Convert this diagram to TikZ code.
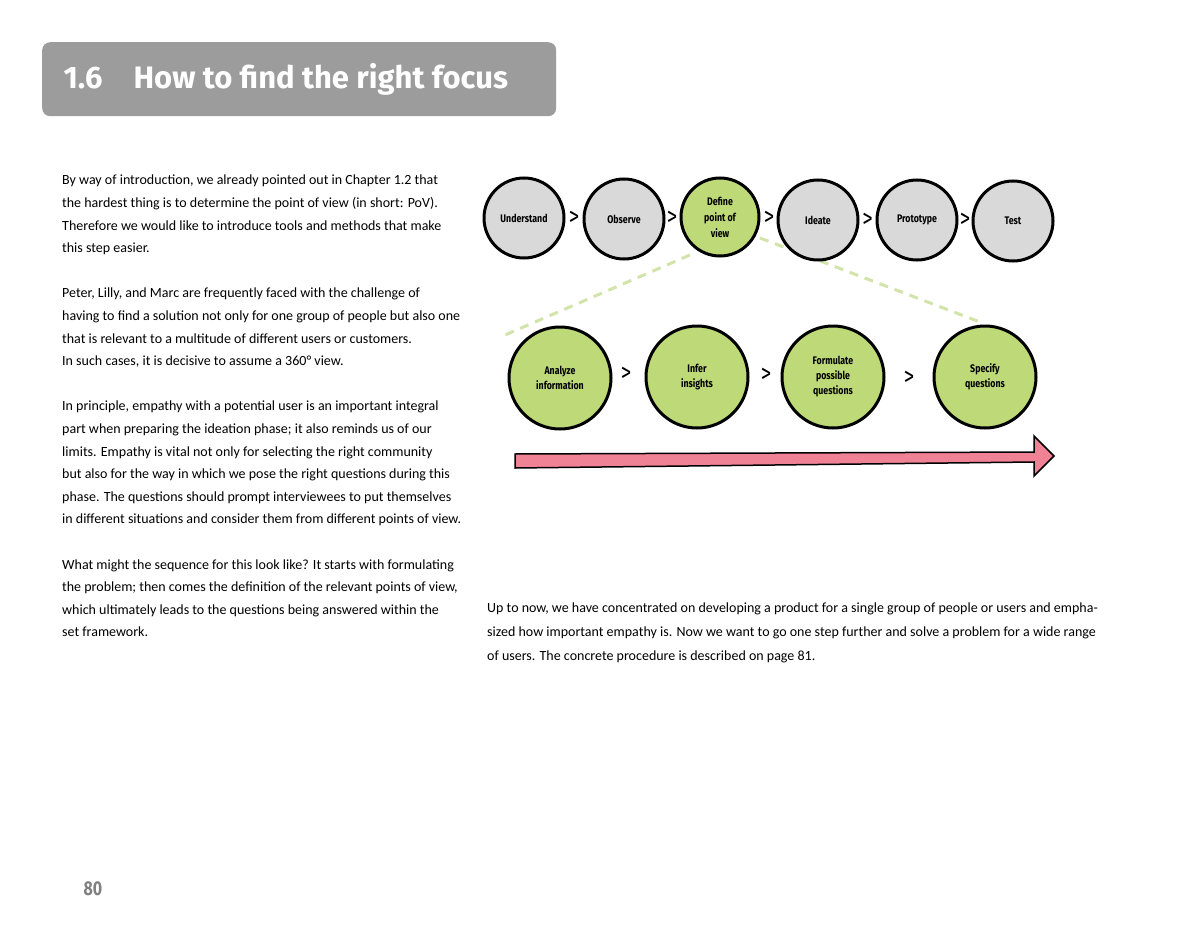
\documentclass[tikz,border=0pt]{standalone}
\usepackage{fontspec}
\usetikzlibrary{calc}
\setmainfont{Carlito}
\newfontfamily\hand{Fira Sans}[FakeStretch=0.8]
\newfontfamily\titlef{Fira Sans}
\begin{document}
\begin{tikzpicture}[x=1pt,y=-1pt,
  txt/.style={anchor=north west,inner sep=0pt,align=left,font=\fontsize{14}{22.6}\selectfont},
  graycirc/.style={circle,draw=black,line width=3pt,fill=gray!30,minimum size=80pt,inner sep=0pt,align=center,font=\hand\bfseries\fontsize{11}{13}\selectfont},
  greencirc/.style={circle,draw=black,line width=3pt,fill=green1,minimum size=102pt,inner sep=0pt,align=center,font=\hand\bfseries\fontsize{11}{15}\selectfont},
  chev/.style={font=\hand\fontsize{26}{26}\selectfont,inner sep=0pt}]
\definecolor{green1}{RGB}{190,218,120}
\definecolor{pinkA}{RGB}{240,130,150}
\definecolor{dashg}{RGB}{210,228,170}
\useasboundingbox (0,0) rectangle (1200,942);
\fill[white] (0,0) rectangle (1200,942);
\node[fill=gray!70!black!60,rounded corners=8pt,minimum width=514pt,minimum height=74pt,anchor=north west] (title) at (42,42) {};
\node[anchor=west,text=white,font=\titlef\bfseries\fontsize{31}{31}\selectfont] (tt) at (60,79) {1.6\quad How to find the right focus};
\node[txt] (p1) at (62,175) {By way of introduction, we already pointed out in Chapter 1.2 that\\the hardest thing is to determine the point of view (in short: PoV).\\Therefore we would like to introduce tools and methods that make\\this step easier.\\[22.6pt]Peter, Lilly, and Marc are frequently faced with the challenge of\\having to find a solution not only for one group of people but also one\\that is relevant to a multitude of different users or customers.\\In such cases, it is decisive to assume a 360° view.\\[22.6pt]In principle, empathy with a potential user is an important integral\\part when preparing the ideation phase; it also reminds us of our\\limits. Empathy is vital not only for selecting the right community\\but also for the way in which we pose the right questions during this\\phase. The questions should prompt interviewees to put themselves\\in different situations and consider them from different points of view.\\[22.6pt]What might the sequence for this look like? It starts with formulating\\the problem; then comes the definition of the relevant points of view,\\which ultimately leads to the questions being answered within the\\set framework.};
\node[txt,font=\fontsize{14}{24}\selectfont] (p2) at (487,603) {Up to now, we have concentrated on developing a product for a single group of people or users and empha-\\sized how important empathy is. Now we want to go one step further and solve a problem for a wide range\\of users. The concrete procedure is described on page 81.};
\node[text=gray,font=\hand\bfseries\fontsize{20}{20}\selectfont] (pg) at (93,889) {80};
\draw[dashg,line width=3pt,dash pattern=on 9pt off 7pt] (690,255) -- (505,335);
\draw[dashg,line width=3pt,dash pattern=on 9pt off 7pt] (760,238) -- (980,322);
\node[graycirc] (u) at (524,218) {Understand};
\node[graycirc] (o) at (624,219) {Observe};
\node[greencirc,minimum size=78pt,font=\hand\bfseries\fontsize{11}{16}\selectfont] (d) at (720,217) {Define\\point of\\view};
\node[graycirc] (i) at (818,220) {Ideate};
\node[graycirc] (pr) at (917,220) {Prototype};
\node[graycirc] (t) at (1013,221) {Test};
\foreach \a/\b in {u/o,o/d,d/i,i/pr,pr/t} \node[chev] at ($(\a)!0.5!(\b)$) {>};
\node[greencirc] (a) at (560,378) {Analyze\\information};
\node[greencirc] (inf) at (697,377) {Infer\\insights};
\node[greencirc] (f) at (833,377) {Formulate\\possible\\questions};
\node[greencirc] (s) at (985,377) {Specify\\questions};
\node[chev] at (626,374) {>};
\node[chev] at (766,375) {>};
\node[chev] at (909,378) {>};
\draw[line width=1.5pt,fill=pinkA] (515,454) -- (1034,452) -- (1034,436) -- (1054,456) -- (1034,476) -- (1034,462) -- (515,468) -- cycle;
\end{tikzpicture}
\end{document}
